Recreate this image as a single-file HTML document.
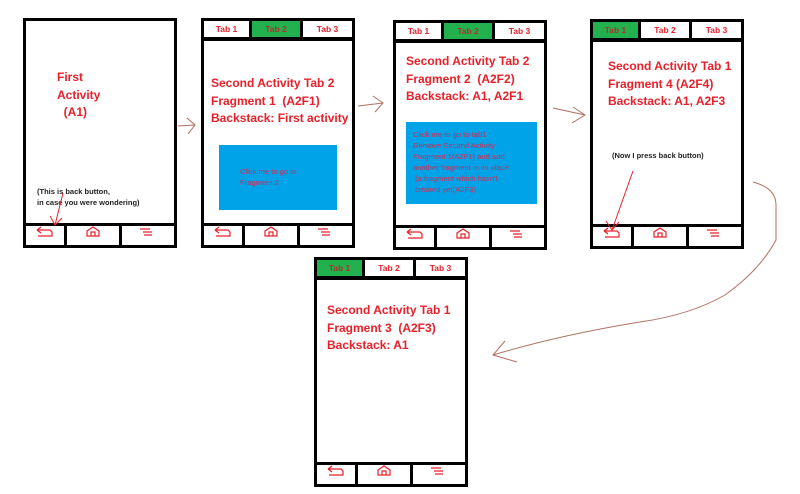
<!DOCTYPE html>
<html><head><meta charset="utf-8"><style>
body{margin:0;width:800px;height:494px;background:#fff;position:relative;overflow:hidden;font-family:"Liberation Sans",sans-serif}
.p{position:absolute;width:154px;height:230px;background:#000}
.p div{position:absolute;background:#fff}
.c{left:3px;top:3px;width:148px;height:202px}
.t .c{top:23px;height:182px}
.tb{top:3px;height:16px;font-size:8.5px;color:#e8202a;text-align:center;line-height:16px;font-weight:bold}
.nv{top:208px;height:19px}
.g{background:#22b14c !important;color:#b03030 !important}
.txt{position:absolute;color:#e8202a;font-weight:bold;font-size:12px;line-height:17.5px;white-space:nowrap}
.blue{position:absolute;background:#00a2e8;color:#c8305a;font-size:7.6px;line-height:11px;white-space:nowrap}
.sm{position:absolute;font-size:7.5px;font-weight:bold;color:#222;line-height:11px;white-space:nowrap}
svg{position:absolute;left:0;top:0}
</style></head><body>

<div class="p" style="left:23px;top:18px">
<div class="c"></div>
<div class="nv" style="left:3px;width:38px"></div><div class="nv" style="left:44px;width:52px"></div><div class="nv" style="left:99px;width:52px"></div>
</div>
<div class="p t" style="left:201px;top:18px">
<div class="tb" style="left:3px;width:45px">Tab 1</div><div class="tb g" style="left:51px;width:48px">Tab 2</div><div class="tb" style="left:102px;width:49px">Tab 3</div>
<div class="c"></div>
<div class="nv" style="left:3px;width:38px"></div><div class="nv" style="left:44px;width:52px"></div><div class="nv" style="left:99px;width:52px"></div>
</div>
<div class="p t" style="left:393px;top:20px">
<div class="tb" style="left:3px;width:45px">Tab 1</div><div class="tb g" style="left:51px;width:48px">Tab 2</div><div class="tb" style="left:102px;width:49px">Tab 3</div>
<div class="c"></div>
<div class="nv" style="left:3px;width:38px"></div><div class="nv" style="left:44px;width:52px"></div><div class="nv" style="left:99px;width:52px"></div>
</div>
<div class="p t" style="left:590px;top:19px">
<div class="tb g" style="left:3px;width:45px">Tab 1</div><div class="tb" style="left:51px;width:48px">Tab 2</div><div class="tb" style="left:102px;width:49px">Tab 3</div>
<div class="c"></div>
<div class="nv" style="left:3px;width:38px"></div><div class="nv" style="left:44px;width:52px"></div><div class="nv" style="left:99px;width:52px"></div>
</div>
<div class="p t" style="left:314px;top:257px">
<div class="tb g" style="left:3px;width:45px">Tab 1</div><div class="tb" style="left:51px;width:48px">Tab 2</div><div class="tb" style="left:102px;width:49px">Tab 3</div>
<div class="c"></div>
<div class="nv" style="left:3px;width:38px"></div><div class="nv" style="left:44px;width:52px"></div><div class="nv" style="left:99px;width:52px"></div>
</div>

<div class="txt" style="left:57px;top:69px">First<br>Activity<br>&nbsp;&nbsp;(A1)</div>
<div class="sm" style="left:37px;top:186px">(This is back button,<br>in case you were wondering)</div>

<div class="txt" style="left:211px;top:75px">Second Activity Tab 2<br>Fragment 1 &nbsp;(A2F1)<br>Backstack: First activity</div>
<div class="blue" style="left:219px;top:145px;width:118px;height:65px"><div style="position:absolute;left:21px;top:21px;background:none">Click me to go to<br>Fragment 2</div></div>

<div class="txt" style="left:406px;top:53px">Second Activity Tab 2<br>Fragment 2 &nbsp;(A2F2)<br>Backstack: A1, A2F1</div>
<div class="blue" style="left:406px;top:122px;width:131px;height:82px"><div style="position:absolute;left:7px;top:7px;background:none">Click me to go to tab1<br>Remove Second Activity<br>Fragment 1(A2F1) and add<br>another fragment in its place<br>&nbsp;(a fragment which hasn't<br>&nbsp;created yet(A2F3)</div></div>

<div class="txt" style="left:608px;top:58px">Second Activity Tab 1<br>Fragment 4 (A2F4)<br>Backstack: A1, A2F3</div>
<div class="sm" style="left:612px;top:150px">(Now I press back button)</div>

<div class="txt" style="left:327px;top:302px">Second Activity Tab 1<br>Fragment 3 &nbsp;(A2F3)<br>Backstack: A1</div>

<svg width="800" height="494" viewBox="0 0 800 494">
<g fill="none" stroke="#b07060" stroke-width="1">
<path d="M178 126 L195 125 M187 118 L195 125 L188 134"/>
<path d="M358 106 L383 103 M373 96 L383 103 L375 112"/>
<path d="M553 108 L585 115 M573 107 L585 115 L572 123"/>
<path d="M753 182 Q776 188 776 205 L776 240 Q760 270 725 295 Q690 315 640 322 Q560 335 493 355 M505 341 L493 355 L517 362"/>
</g>
<g fill="none" stroke="#e8202a" stroke-width="1">
<path d="M63 193 L55 225 M50 216 L55 225 L62 218"/>
<path d="M633 171 L612 230 M606 221 L612 230 L619 222"/>
</g>
<g fill="none" stroke="#e8202a" stroke-width="1.2" id="icons">
<path d="M37 230 L41 227 M37 230 L41 233 M37 230 L50 230 L52 232 L52 236 L38 236"/>
<path d="M87 236 L87 231 L93 227 L99 231 L99 236 Z M91 236 L91 232 L95 232 L95 236"/>
<path d="M140 229 L150 229 M143 232 L152 232 M144 235 L152 235"/>
</g>
<use href="#icons" x="178" y="0"/>
<use href="#icons" x="370" y="2"/>
<use href="#icons" x="567" y="1"/>
<use href="#icons" x="291" y="239"/>
</svg>
</body></html>
